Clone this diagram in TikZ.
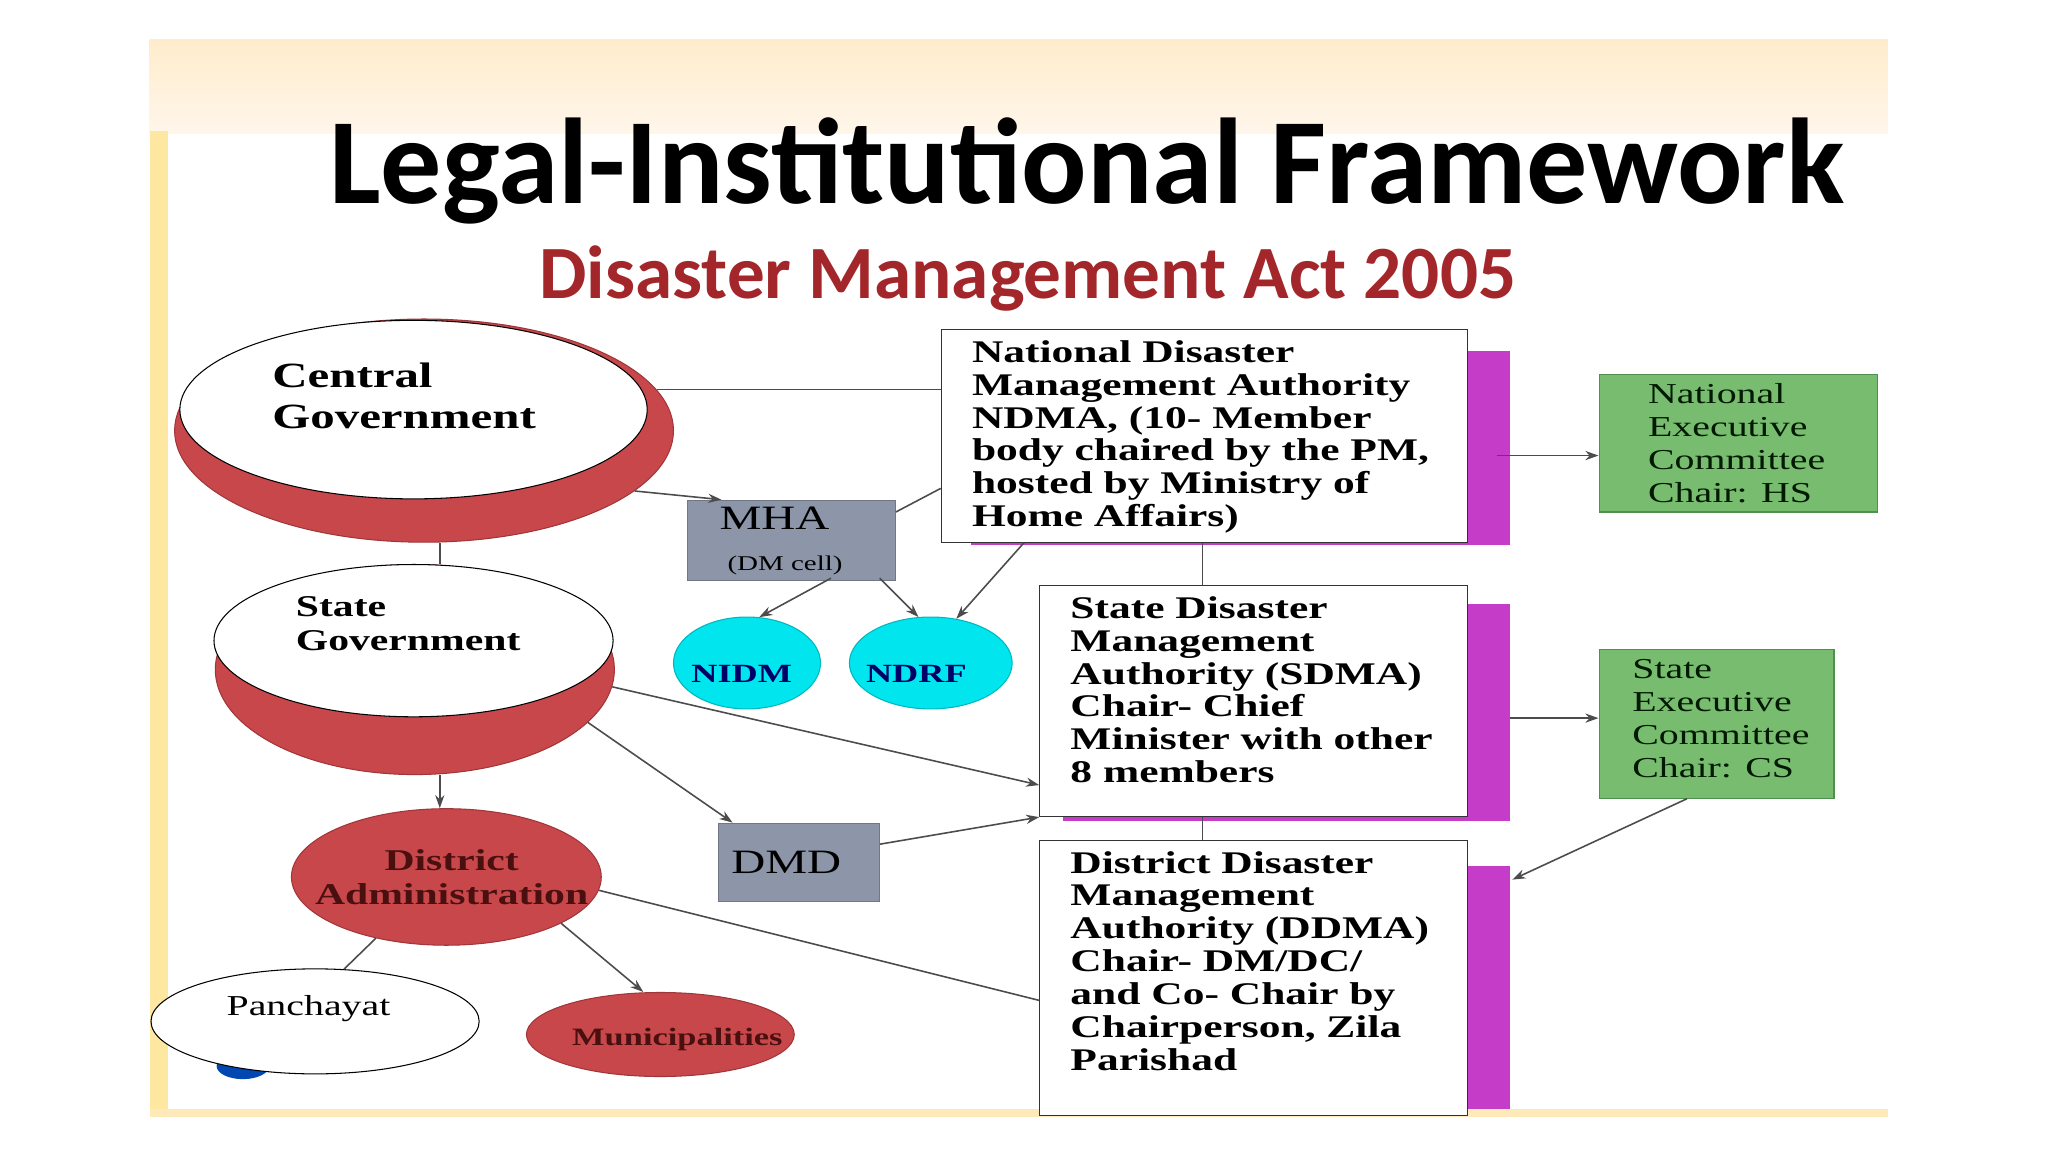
\documentclass[tikz,border=0pt]{standalone}
\usepackage{fontspec}
\usetikzlibrary{shapes.geometric,arrows.meta}
\newfontfamily\wser[FakeStretch=1.38]{Liberation Serif}
\newfontfamily\ttl{Carlito}
\definecolor{rd}{HTML}{C8474B}
\definecolor{rdb}{HTML}{A0363A}
\definecolor{gr}{HTML}{8C96A8}
\definecolor{cy}{HTML}{00E5EE}
\definecolor{gn}{HTML}{77BC6F}
\definecolor{gnb}{HTML}{4F8F4F}
\definecolor{pu}{HTML}{C43CC8}
\definecolor{sub}{HTML}{A3262A}
\definecolor{brn}{HTML}{4A1010}
\begin{document}
\begin{tikzpicture}[x=0.5pt,y=-0.5pt,
  redell/.style={ellipse,fill=rd,draw=rdb,inner sep=0},
  whell/.style={ellipse,fill=white,draw=black,inner sep=0},
  graybox/.style={rectangle,fill=gr,draw=gr!80!black,inner sep=0},
  wbox/.style={rectangle,fill=white,draw=black!80,inner sep=0},
  pubar/.style={fill=pu},
  gbox/.style={rectangle,fill=gn,draw=gnb,inner sep=0},
  btxt/.style={align=left,anchor=north west,inner sep=0,font=\wser\bfseries\fontsize{12}{12.5}\selectfont},
  gtxt/.style={align=left,anchor=north west,inner sep=0,text=black!75!green!40!black,font=\wser\fontsize{11}{12.5}\selectfont},
  conn/.style={draw=black!70,line width=0.6pt},
  arr/.style={conn,-{Stealth[length=5pt,width=3.5pt]}}]
\useasboundingbox (0,0) rectangle (1560,878);
\fill[white] (0,0) rectangle (1560,878);
% slide frame
\shade[top color=yellow!25!orange!20!white,bottom color=yellow!15!orange!8!white] (114,30) rectangle (1438,102);
\fill[yellow!55!orange!35!white] (114,100) rectangle (128,850);
\fill[yellow!40!orange!25!white] (114,845) rectangle (1438,851);
% titles
\node[font=\ttl\bfseries] (title) at (828,130) {\resizebox{577pt}{!}{Legal-Institutional Framework}};
\node[font=\ttl\bfseries,text=sub] (subt) at (783,212) {\resizebox{372pt}{!}{Disaster Management Act 2005}};
% central government
\node[redell,minimum width=190pt,minimum height=85pt] (cgr) at (323,328) {};
\node[whell,minimum width=178pt,minimum height=68pt] (cgw) at (315,312) {};
\node[btxt,font=\wser\bfseries\fontsize{13.5}{15.5}\selectfont] (cgt) at (207,276) {Central\\Government};
% state government
\node[redell,minimum width=152pt,minimum height=80pt] (sgr) at (316,510) {};
\node[whell,minimum width=152pt,minimum height=58pt] (sgw) at (315,488) {};
\node[btxt,font=\wser\bfseries\fontsize{11.5}{13}\selectfont] (sgt) at (225,454) {State\\Government};
% district
\node[redell,minimum width=118pt,minimum height=52pt] (da) at (340,668) {};
\node[align=center,text=brn,font=\wser\bfseries\fontsize{11.5}{13}\selectfont] (dat) at (344,668) {District\\Administration};
\fill[blue!60!cyan!70!black] (185,812) ellipse [x radius=20,y radius=10];
\node[whell,minimum width=125pt,minimum height=40pt] (pa) at (240,778) {};
\node[font=\wser\fontsize{11}{13}\selectfont] (pat) at (235,768) {Panchayat};
\node[redell,minimum width=102pt,minimum height=32pt] (mu) at (503,788) {};
\node[text=brn,font=\wser\bfseries\fontsize{9.5}{12}\selectfont] (mut) at (516,792) {Municipalities};
% MHA, DMD
\node[graybox,minimum width=79pt,minimum height=30.5pt] (mha) at (603,411.5) {};
\node[font=\wser\fontsize{13}{13}\selectfont] (mhat) at (590,395) {MHA};
\node[font=\wser\fontsize{8}{8}\selectfont] (mhac) at (598,431) {(DM cell)};
\node[graybox,minimum width=61.5pt,minimum height=30pt] (dmd) at (608.5,657) {};
\node[font=\wser\fontsize{13}{13}\selectfont,anchor=west] (dmdt) at (550,657) {DMD};
% NIDM NDRF
\node[ellipse,fill=cy,draw=cy!80!black,minimum width=56pt,minimum height=35pt,inner sep=0] (nidm) at (569,505) {};
\node[text=blue!40!black,font=\wser\bfseries\fontsize{10}{10}\selectfont] (nidmt) at (565,513) {NIDM};
\node[ellipse,fill=cy,draw=cy!80!black,minimum width=62pt,minimum height=35pt,inner sep=0] (ndrf) at (709,505) {};
\node[text=blue!40!black,font=\wser\bfseries\fontsize{10}{10}\selectfont] (ndrft) at (698,513) {NDRF};
% authority boxes
\fill[pubar] (1118,267) rectangle (1150,415);
\fill[pubar] (740,411) rectangle (1150,415);
\node[wbox,minimum width=200.5pt,minimum height=81pt] (ndma) at (917.5,332) {};
\node[btxt] (ndmat) at (740,259) {National Disaster\\Management Authority\\NDMA, (10- Member\\body chaired by the PM,\\hosted by Ministry of\\Home Affairs)};
\fill[pubar] (1118,460) rectangle (1150,625);
\fill[pubar] (810,620) rectangle (1150,625);
\node[wbox,minimum width=163pt,minimum height=88pt] (sdma) at (955,534) {};
\node[btxt] (sdmat) at (815,454) {State Disaster\\Management\\Authority (SDMA)\\Chair- Chief\\Minister with other\\8 members};
\fill[pubar] (1118,660) rectangle (1150,845);
\node[wbox,minimum width=163pt,minimum height=105pt] (ddma) at (955,745) {};
\node[btxt] (ddmat) at (815,648) {District Disaster\\Management\\Authority (DDMA)\\Chair- DM/DC/\\and Co- Chair by\\Chairperson, Zila\\Parishad};
% green boxes
\node[gbox,minimum width=106pt,minimum height=52.5pt] (nec) at (1324,337.5) {};
\node[gtxt] (nect) at (1255,292) {National\\Executive\\Committee\\Chair: HS};
\node[gbox,minimum width=89.5pt,minimum height=56.5pt] (sec) at (1307.5,551.5) {};
\node[gtxt] (sect) at (1243,502) {State\\Executive\\Committee\\Chair: CS};
% connectors
\draw[conn] (cgr.10) -- (cgr.10 -| ndma.west);
\draw[arr] (cgr.-16) -- (mha.150);
\draw[conn] (mha.east |- 0,390) -- (ndma.west |- 0,372);
\draw[arr] (ndma.south -| 780,0) -- (ndrf.60);
\draw[arr] (mha.-160 -| 633,0) -- (nidm.75);
\draw[arr] (mha.-20 -| 670,0) -- (ndrf.105);
\draw[conn] (cgr.south -| 335,0) -- (sgw.north -| 335,0);
\draw[arr] (sgr.south -| 335,0) -- (da.north -| 335,0);
\draw[arr] (sgr.-5) -- (sdma.west |- 0,598);
\draw[arr] (sgr.-17) -- (dmd.north west -| 558,0);
\draw[arr] (dmd.east |- 0,643) -- (sdma.south west);
\draw[conn] (da.-5) -- (ddma.west |- 0,762);
\draw[conn] (da.-139) -- (pa.61);
\draw[arr] (da.-22) -- (mu.north -| 490,0);
\draw[conn] (ndma.south -| 916,0) -- (sdma.north -| 916,0);
\draw[conn] (sdma.south -| 916,0) -- (ddma.north -| 916,0);
\draw[arr] (1140,347) -- (nec.west |- 0,347);
\draw[arr] (1150,547) -- (sec.west |- 0,547);
\draw[arr] (sec.south -| 1285,0) -- (1152,670);
\end{tikzpicture}
\end{document}
